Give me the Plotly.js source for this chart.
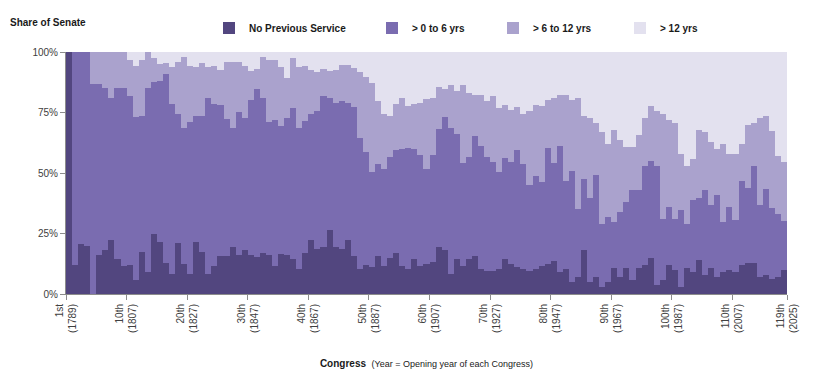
<!DOCTYPE html>
<html>
<head>
<meta charset="utf-8">
<script src="https://cdn.plot.ly/plotly-3.0.1.min.js"></script>
<style>
  html, body { margin: 0; padding: 0; background: #ffffff; }
  #chart { width: 821px; height: 383px; }
</style>
</head>
<body>
<div id="chart"></div>
<script>
// Share of Senate (%) by prior Senate service, 1st (1789) to 119th (2025) Congress
const seriesNames = ["No Previous Service", "> 0 to 6 yrs", "> 6 to 12 yrs", "> 12 yrs"];

const noPrev = [100,12.0,20.7,19.9,0,16.1,18.2,22.3,14.5,11.6,
  12.0,5.8,17.4,9.1,24.8,21.5,12.8,8.3,21.1,12.4,
  8.3,21.5,17.4,8.3,11.6,15.7,15.7,19.4,16.1,18.2,
  16.1,15.3,17.0,16.1,11.6,16.6,16.1,14.5,10.3,17.0,
  22.3,18.6,19.4,26.5,19.4,18.6,22.3,15.7,10.3,12.0,
  11.2,15.7,11.6,14.9,17.0,11.6,10.3,14.5,11.6,12.4,
  13.2,19.4,18.2,8.3,14.5,11.6,14.5,15.7,10.3,9.5,
  9.5,10.3,14.5,12.4,11.2,10.3,9.5,10.3,11.6,12.4,
  13.7,9.1,10.3,5.0,7.0,18.2,5.0,7.0,2.9,5.0,
  10.8,7.0,10.8,5.8,10.8,12.0,14.9,3.7,5.8,12.0,
  9.9,2.9,10.8,9.1,14.1,7.9,10.8,7.0,9.1,9.9,
  9.1,12.0,12.8,12.8,7.0,7.9,6.2,7.0,9.9];

const upTo6 = [0,88.0,79.3,80.1,86.9,70.8,66.8,58.5,70.7,73.6,
  69.9,67.2,56.3,75.9,62.6,66.6,78.2,70.3,53.4,56.4,
  62.9,52.2,56.3,72.8,67.0,62.5,56.7,49.4,59.2,54.6,
  64.2,69.5,64.1,55.1,60.4,52.9,56.7,62.5,58.5,54.6,
  52.2,57.1,62.5,54.6,59.6,61.3,56.7,61.7,54.3,46.8,
  39.3,38.1,40.1,41.8,42.6,48.4,50.1,45.5,45.9,39.3,
  44.3,48.9,55.0,60.4,51.7,42.6,42.2,49.7,50.9,47.2,
  45.1,40.2,41.8,42.2,48.4,43.5,35.6,38.5,34.7,48.0,
  40.5,52.1,36.5,45.9,28.2,29.4,34.7,42.2,26.1,26.9,
  19.0,26.9,27.3,37.2,32.2,41.0,40.1,49.3,25.2,24.0,
  21.1,31.9,18.2,29.8,25.6,35.1,26.0,34.0,20.7,26.1,
  21.5,34.8,31.1,40.2,29.8,35.5,29.4,26.1,20.3];

const sixTo12 = [0,0,0,0,13.1,13.1,15.0,19.2,14.8,14.8,
  14.9,21.1,23.1,15.0,10.1,7.1,4.4,15.1,21.2,29.0,
  22.9,20.0,21.9,12.6,15.7,14.2,23.6,27.2,20.7,21.5,
  11.7,8.3,17.0,25.4,24.8,24.4,16.3,20.7,24.9,22.7,
  17.9,15.9,11.2,10.9,13.4,14.9,15.8,16.1,27.3,30.7,
  36.8,26.1,22.8,17.0,19.0,21.1,17.4,18.6,21.5,29.0,
  23.6,17.4,11.6,17.8,17.8,32.3,26.5,16.9,21.1,23.2,
  27.3,26.5,21.9,21.5,17.8,20.7,30.6,29.4,31.5,19.9,
  26.9,21.1,35.5,29.4,45.9,26.1,33.1,21.6,38.0,30.2,
  38.1,29.8,22.7,17.8,22.8,19.8,22.8,22.7,43.5,36.0,
  39.8,23.1,24.0,17.0,28.2,24.0,26.1,19.0,32.3,21.9,
  27.3,15.3,26.0,17.8,36.0,30.3,31.8,24.0,24.4];

const over12 = [0,0,0,0,0,0,0,0,0,0,
  3.2,5.9,3.2,0,2.5,4.8,4.6,6.3,4.3,2.2,
  5.9,6.3,4.4,6.3,5.7,7.6,4.0,4.0,4.0,5.7,
  8.0,6.9,1.9,3.4,3.2,6.1,10.9,2.3,6.3,5.7,
  7.6,8.4,6.9,8.0,7.6,5.2,5.2,6.5,8.1,10.5,
  12.7,20.1,25.5,26.3,21.4,18.9,22.2,21.4,21.0,19.3,
  18.9,14.3,15.2,13.5,16.0,13.5,16.8,17.7,17.7,20.1,
  18.1,23.0,21.8,23.9,22.6,25.5,24.3,21.8,22.2,19.7,
  18.9,17.7,17.7,19.7,18.9,26.3,27.2,29.2,33.0,37.9,
  32.1,36.3,39.2,39.2,34.2,27.2,22.2,24.3,25.5,28.0,
  29.2,42.1,47.0,44.1,32.1,33.0,37.1,40.0,37.9,42.1,
  42.1,37.9,30.1,29.2,27.2,26.3,32.6,42.9,45.4];

// Congress numbers (categories) and labelled ticks
const congress = noPrev.map((_, i) => i + 1);
const tickCongress = [1, 10, 20, 30, 40, 50, 60, 70, 80, 90, 100, 110, 119];
const tickOrdinal = ["1st", "10th", "20th", "30th", "40th", "50th", "60th", "70th", "80th", "90th", "100th", "110th", "119th"];
const tickYears = [1789, 1807, 1827, 1847, 1867, 1887, 1907, 1927, 1947, 1967, 1987, 2007, 2025];
const yTicks = [0, 25, 50, 75, 100];

const colors = ["#52467f", "#7a6cb0", "#aaa2cd", "#e3e1ef"];
const values = [noPrev, upTo6, sixTo12, over12];
const legendIds = ["legend", "legend2", "legend3", "legend4"];
const legendTextX = [249, 412, 533, 660];

const FONT = "'Liberation Sans', Arial, sans-serif";

const traces = values.map((v, k) => ({
  type: "bar",
  name: seriesNames[k],
  x: congress,
  y: v,
  legend: legendIds[k],
  marker: { color: colors[k], line: { width: 0 } },
  hoverinfo: "skip"
}));

// Excel-style tick marks sit on category boundaries
const tickvals = tickCongress.map(n => (n === 1 ? n - 0.5 : n + 0.5));
const ticktext = tickCongress.map((n, i) => tickOrdinal[i] + "<br>(" + tickYears[i] + ")");

const layout = {
  width: 821,
  height: 383,
  margin: { l: 66, r: 34, t: 52, b: 89 },
  paper_bgcolor: "#ffffff",
  plot_bgcolor: "#ffffff",
  barmode: "stack",
  bargap: 0,
  font: { family: FONT, size: 10, color: "#404040" },
  title: {
    text: "Share of Senate",
    font: { family: FONT, size: 10, color: "#1a1a1a", weight: "bold" },
    xref: "container", yref: "container",
    x: 10 / 821, xanchor: "left",
    y: 1 - 22 / 383, yanchor: "middle"
  },
  xaxis: {
    type: "linear",
    range: [0.5, 119.5],
    tickmode: "array",
    tickvals: tickvals,
    ticktext: ticktext,
    tickangle: -90,
    ticks: "outside",
    ticklen: 5,
    tickcolor: "#8c8c8c",
    showline: true,
    linecolor: "#8c8c8c",
    linewidth: 1,
    showgrid: false,
    zeroline: false,
    tickfont: { family: FONT, size: 10, color: "#404040" },
    title: {
      text: "<b>Congress</b>  <span style='font-size:9px'>(Year = Opening year of each Congress)</span>",
      font: { family: FONT, size: 10, color: "#1a1a1a" },
      standoff: 28
    }
  },
  yaxis: {
    range: [0, 100],
    tickmode: "array",
    tickvals: yTicks,
    ticktext: yTicks.map(v => v + "%"),
    ticks: "outside",
    ticklen: 5,
    tickcolor: "#8c8c8c",
    showline: true,
    linecolor: "#8c8c8c",
    linewidth: 1,
    showgrid: false,
    zeroline: false,
    tickfont: { family: FONT, size: 10, color: "#404040" }
  },
  showlegend: true
};

legendIds.forEach((id, k) => {
  layout[id] = {
    orientation: "h",
    xref: "container", yref: "container",
    x: (legendTextX[k] - 40) / 821, xanchor: "left",
    y: 1 - 28 / 383, yanchor: "middle",
    bgcolor: "rgba(0,0,0,0)",
    font: { family: FONT, size: 10, color: "#1a1a1a", weight: "bold" }
  };
});

Plotly.newPlot("chart", traces, layout, { displayModeBar: false, staticPlot: true });
</script>
</body>
</html>
